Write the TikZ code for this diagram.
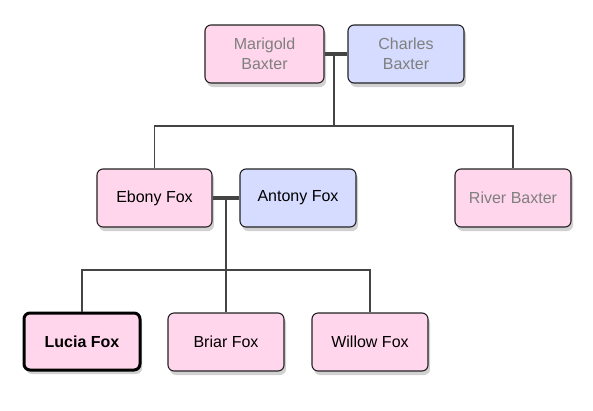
\documentclass[tikz,border=0pt]{standalone}
\usepackage{fontspec}
\setmainfont{Liberation Sans}
\usetikzlibrary{shadows}
\definecolor{pinkf}{HTML}{FFD6EC}
\definecolor{bluef}{HTML}{D6DCFF}
\definecolor{edgec}{HTML}{444444}
\definecolor{greyt}{HTML}{7F7F7F}
\definecolor{bordc}{HTML}{222222}
\begin{document}
\begin{tikzpicture}[x=1pt,y=-1pt,
  person/.style={draw=bordc, line width=1.1pt, rounded corners=6pt, minimum width=116pt, minimum height=58pt, align=center, font=\fontsize{16}{20}\selectfont, text=black, inner sep=2pt,
    drop shadow={shadow xshift=2pt, shadow yshift=-4pt, opacity=0.18, fill=black}},
  female/.style={person, fill=pinkf},
  male/.style={person, fill=bluef},
  faded/.style={text=greyt},
  conn/.style={draw=edgec, line width=1.8pt},
  couple/.style={draw=edgec, line width=4pt}]
\useasboundingbox (0,0) rectangle (593,410);
\node[female, faded, minimum width=119pt] (mari) at (264.5,54) {Marigold\\Baxter};
\node[male, faded] (char) at (406,54) {Charles\\Baxter};
\node[female, minimum width=115pt] (ebony) at (154.5,198) {Ebony Fox};
\node[male] (antony) at (298,198) {Antony Fox};
\node[female, faded] (river) at (513,198) {River Baxter};
\node[female, draw=black, line width=3pt, minimum width=116pt, minimum height=57pt, font=\fontsize{16}{20}\selectfont\bfseries] (lucia) at (82,341.5) {Lucia Fox};
\node[female] (briar) at (226,342) {Briar Fox};
\node[female] (willow) at (370,342) {Willow Fox};
\coordinate (c1) at (334,54);
\coordinate (j1) at (334,126);
\coordinate (c2) at (226,198);
\coordinate (j2) at (226,270);
\draw[couple] (mari.east) -- (char.west);
\draw[conn] (c1) -- (j1);
\draw[conn] (j1) -| (ebony.north);
\draw[conn] (j1) -| (river.north);
\draw[couple] (ebony.east) -- (antony.west);
\draw[conn] (c2) -- (j2);
\draw[conn] (j2) -| (lucia.north);
\draw[conn] (j2) -- (briar.north);
\draw[conn] (j2) -| (willow.north);
\end{tikzpicture}
\end{document}
